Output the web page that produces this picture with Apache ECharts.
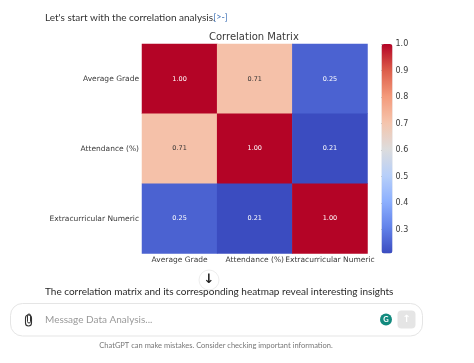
<!DOCTYPE html>
<html><head><meta charset="utf-8">
<style>html,body{margin:0;padding:0;background:#fff}#c{width:474px;height:363px}</style>
<script src="https://cdn.jsdelivr.net/npm/echarts@6/dist/echarts.min.js"></script>
</head><body><div id="c"></div>
<script>
const categories = ["Average Grade", "Attendance (%)", "Extracurricular Numeric"];
const row1 = [1.00, 0.71, 0.25];
const row2 = [0.71, 1.00, 0.21];
const row3 = [0.25, 0.21, 1.00];
const colorbarTicks = [0.3, 0.4, 0.5, 0.6, 0.7, 0.8, 0.9, 1.0];
const coolwarm = ["#3b4cc0","#6282ea","#8db0fe","#b8d0f9","#dddcdc","#f5c4ac","#f49a7b","#dc5d4a","#b40426"];
const rows = [row1, row2, row3];
const cells = [];
rows.forEach((r, y) => r.forEach((v, x) => cells.push({
  value: [x, y, v],
  label: { color: v > 0.5 && v < 0.9 ? "#333" : "#fff" }
})));
const ink = "#3a3a3a";
const body = 'Lato,"Noto Sans",sans-serif';
const dv = '"DejaVu Sans",sans-serif';
const txt = (x, y, s, size, fill, extra) => ({ type: "text", x, y, silent: true,
  style: Object.assign({ text: s, font: size + "px " + body, fill, verticalAlign: "middle" }, extra || {}) });
const chart = echarts.init(document.getElementById("c"), null, { renderer: "canvas" });
chart.setOption({
  animation: false,
  backgroundColor: "#fff",
  title: { text: "Correlation Matrix", left: 204, top: 27,
    textStyle: { fontFamily: dv, fontSize: 10, fontWeight: "normal", color: ink } },
  grid: [
    { left: 142, top: 44, width: 225.5, height: 209.5 },
    { left: 381.5, top: 44, width: 11, height: 209.5 }
  ],
  xAxis: [
    { type: "category", gridIndex: 0, data: categories,
      axisLine: { show: false }, axisTick: { length: 2, alignWithLabel: true, lineStyle: { color: ink, width: .6 } },
      splitLine: { show: false }, splitArea: { show: false },
      axisLabel: { interval: 0, hideOverlap: false, fontFamily: dv, fontSize: 7.5, color: ink, margin: 3 } },
    { type: "value", gridIndex: 1, show: false, min: 0, max: 1 }
  ],
  yAxis: [
    { type: "category", gridIndex: 0, data: categories, inverse: true,
      axisLine: { show: false }, axisTick: { length: 2, alignWithLabel: true, lineStyle: { color: ink, width: .6 } },
      splitLine: { show: false }, splitArea: { show: false },
      axisLabel: { interval: 0, fontFamily: dv, fontSize: 7.5, color: ink, margin: 3 } },
    { type: "value", gridIndex: 1, position: "right", min: 0.21, max: 1.0,
      axisLine: { show: false }, splitLine: { show: false },
      axisTick: { show: true, length: 2, customValues: colorbarTicks, lineStyle: { color: ink, width: .6 } },
      axisLabel: { customValues: colorbarTicks, fontFamily: dv, fontSize: 8, color: ink, margin: 3,
        formatter: v => v.toFixed(1) } }
  ],
  visualMap: { type: "continuous", min: 0.21, max: 1.0, seriesIndex: 0, calculable: false,
    realtime: false, text: ["", ""], showLabel: false, left: 381.5, top: 44, itemWidth: 11, itemHeight: 209.5,
    padding: 0, inRange: { color: coolwarm } },
  series: [
    { type: "heatmap", xAxisIndex: 0, yAxisIndex: 0, data: cells,
      label: { show: true, fontFamily: dv, fontSize: 6.5, formatter: p => p.value[2].toFixed(2) },
      itemStyle: { borderWidth: 0 }, emphasis: { disabled: true } },
    { type: "line", xAxisIndex: 1, yAxisIndex: 1, data: [], silent: true }
  ],
  graphic: [
    txt(45, 17.5, "Let's start with the correlation analysis.", 10, "#333"),
    txt(213.5, 17, "[>-]", 9, "#3b6fb5"),
    { type: "circle", shape: { cx: 209, cy: 280, r: 10 }, silent: true, style: { fill: "#fff", stroke: "#eee" } },
    txt(209, 280, "↓", 13, "#222", { align: "center", font: "bold 13px " + dv }),
    txt(45, 291.5, "The correlation matrix and its corresponding heatmap reveal interesting insights", 10, "#2a2a2a"),
    { type: "rect", shape: { x: 10.5, y: 303.5, width: 412, height: 32.5, r: 12 }, silent: true, style: { fill: "#fff", stroke: "#e5e5e5" } },
    { type: "rect", shape: { x: 25.5, y: 315, width: 6, height: 11, r: 3 }, silent: true, style: { fill: "none", stroke: "#333", lineWidth: 1.1 } },
    { type: "rect", shape: { x: 27.5, y: 314, width: 3, height: 9, r: 1.5 }, silent: true, style: { fill: "none", stroke: "#333", lineWidth: 1 } },
    txt(45, 320, "Message Data Analysis...", 10, "#9a9a9a"),
    { type: "circle", shape: { cx: 386, cy: 319.5, r: 6 }, silent: true, style: { fill: "#128a7e" } },
    txt(386, 319.5, "G", 7.5, "#fff", { align: "center", font: "bold 7.5px " + body }),
    { type: "rect", shape: { x: 397.5, y: 310.5, width: 18, height: 18, r: 4 }, silent: true, style: { fill: "#e5e5e5" } },
    txt(406.5, 319.5, "↑", 10, "#fff", { align: "center", font: "bold 10px " + dv }),
    txt(216, 346, "ChatGPT can make mistakes. Consider checking important information.", 7.5, "#777", { align: "center" })
  ]
});
</script></body></html>
